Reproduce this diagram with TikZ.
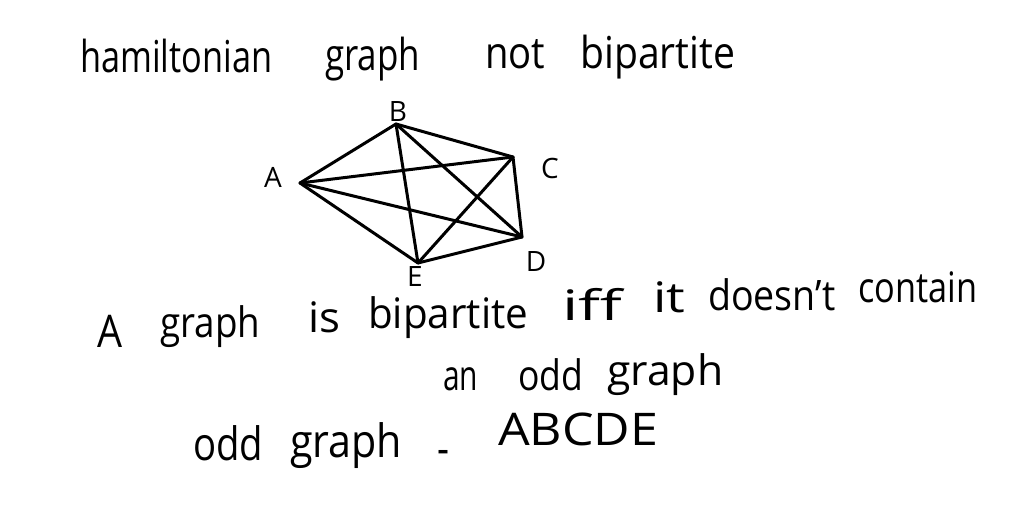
\documentclass[tikz,border=0pt]{standalone}
\usepackage{fontspec}
\setmainfont{Open Sans}
\usepackage{graphicx}
\newcommand\fitw[2]{\resizebox{#1pt}{\height}{#2}}
\begin{document}
\begin{tikzpicture}[x=1pt,y=-1pt,
  word/.style={anchor=base west, inner sep=0pt, font=\fontsize{42}{42}\selectfont},
  titleword/.style={word, font=\fontsize{44}{44}\selectfont},
  bigword/.style={word, font=\fontsize{46}{46}\selectfont},
  capword/.style={word, font=\fontsize{45}{45}\selectfont},
  vlabel/.style={inner sep=0pt, font=\fontsize{28}{28}\selectfont},
  edge/.style={line width=3pt, line cap=round, line join=round}]
\useasboundingbox (0,0) rectangle (1024,512);
\fill[white] (0,0) rectangle (1024,512);

% title line
\node[titleword] (t1) at (80,72) {\fitw{192}{hamiltonian}};
\node[titleword] (t2) at (325,70) {\fitw{95}{graph}};
\node[titleword] (t3) at (485,68) {\fitw{60}{not}};
\node[titleword] (t4) at (580,68) {\fitw{155}{bipartite}};

% graph
\coordinate (A) at (300,183);
\coordinate (B) at (396,124);
\coordinate (C) at (513,157);
\coordinate (D) at (522,237);
\coordinate (E) at (418,263);
\draw[edge] (A) -- (B);
\draw[edge] (A) -- (C);
\draw[edge] (A) -- (D);
\draw[edge] (A) -- (E);
\draw[edge] (B) -- (C);
\draw[edge] (B) -- (D);
\draw[edge] (B) -- (E);
\draw[edge] (C) -- (D);
\draw[edge] (C) -- (E);
\draw[edge] (D) -- (E);
\node[vlabel] (lA) at (273,177) {A};
\node[vlabel] (lB) at (398,112) {B};
\node[vlabel] (lC) at (550,168) {C};
\node[vlabel] (lD) at (536,261) {D};
\node[vlabel] (lE) at (415,276) {E};

% statement
\node[capword] (s1) at (97,347) {\fitw{25}{A}};
\node[word] (s2) at (160,337) {\fitw{100}{graph}};
\node[word] (s3) at (308,332) {\fitw{32}{is}};
\node[word] (s4) at (368,328) {\fitw{160}{bipartite}};
\node[word] (s5) at (562,320) {\fitw{60}{if{}f}};
\node[word] (s6) at (653,312) {\fitw{32}{it}};
\node[word] (s7) at (708,310) {\fitw{127}{doesn't}};
\node[word] (s8) at (858,302) {\fitw{119}{contain}};

\node[word] (u1) at (443,390) {\fitw{35}{an}};
\node[word] (u2) at (518,390) {\fitw{65}{odd}};
\node[word] (u3) at (607,385) {\fitw{116}{graph}};

% odd graph line
\node[bigword] (v1) at (193,460) {\fitw{70}{odd}};
\node[bigword] (v2) at (290,457) {\fitw{112}{graph}};
\node[bigword] (v3) at (437,464) {\fitw{12}{-}};
\node[capword] (v4) at (498,445) {\fitw{160}{ABCDE}};
\end{tikzpicture}
\end{document}
